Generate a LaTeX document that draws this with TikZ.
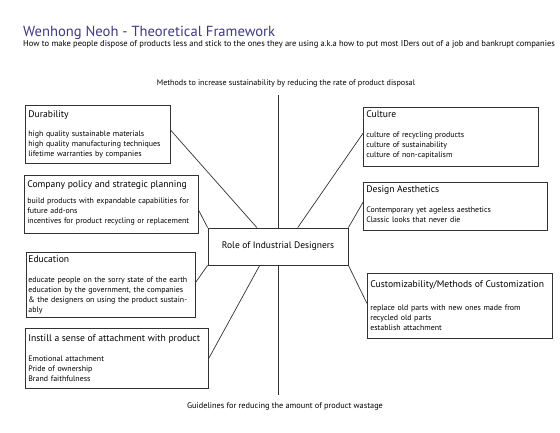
\documentclass[tikz,border=0pt]{standalone}
\usepackage{fontspec}
\setmainfont{PT Sans}
\usetikzlibrary{positioning,calc}
\definecolor{titleblue}{RGB}{61,58,126}
\definecolor{linegray}{RGB}{50,50,50}

\tikzset{
  framebox/.style={draw=linegray, line width=0.75pt, anchor=north west, align=left, inner xsep=3pt, inner ysep=0pt, font=\fontsize{7.9}{10}\selectfont},
  link/.style={draw=linegray, line width=0.7pt}
}
\newcommand{\boxhead}[2]{{\fontsize{9.6}{10}\selectfont #1}\\[#2]}

\begin{document}
\begin{tikzpicture}[x=1pt,y=-1pt]
  \useasboundingbox (0,0) rectangle (560,433);
  % heading
  \node[anchor=base west, inner sep=0, text=titleblue, font=\fontsize{14.6}{16}\selectfont] (title) at (23,37) {Wenhong Neoh - Theoretical Framework};
  \node[anchor=base west, inner sep=0, font=\fontsize{8.5}{9}\selectfont] (sub) at (23,47) {How to make people dispose of products less and stick to the ones they are using a.k.a how to put most IDers out of a job and bankrupt companies};
  \node[inner sep=0, font=\fontsize{8.1}{9}\selectfont] (methods) at (286,83) {Methods to increase sustainability by reducing the rate of product disposal};
  \node[inner sep=0, font=\fontsize{8.3}{9}\selectfont] (guide) at (285,406) {Guidelines for reducing the amount of product wastage};
  % centre
  \node[draw=linegray, line width=0.75pt, minimum width=140pt, minimum height=37pt, font=\fontsize{9.5}{10}\selectfont] (role) at (278,246.5) {Role of Industrial Designers};
  % left side
  \node[framebox, text width=139pt, text height=12pt, text depth=46pt] (dur) at (25,105) {\boxhead{Durability}{9pt}high quality sustainable materials\\high quality manufacturing techniques\\lifetime warranties by companies};
  \node[framebox, text width=168pt, text height=11.7pt, text depth=46.6pt] (policy) at (24,175) {\boxhead{Company policy and strategic planning}{6.6pt}build products with expandable capabilities for\\future add-ons\\incentives for product recycling or replacement};
  \node[framebox, text width=165pt, inner xsep=2pt, text height=10pt, text depth=55.6pt] (edu) at (26,251.7) {\boxhead{Education}{10pt}educate people on the sorry state of the earth\\education by the government, the companies\\\& the designers on using the product sustain-\\ably};
  \node[framebox, text width=177pt, text height=12.7pt, text depth=46.7pt] (instill) at (25,328.3) {\boxhead{Instill a sense of attachment with product}{9.7pt}Emotional attachment\\Pride of ownership\\Brand faithfulness};
  % right side
  \node[framebox, text width=169pt, text height=10pt, text depth=48.4pt] (culture) at (363,107.3) {\boxhead{Culture}{9.5pt}culture of recycling products\\culture of sustainability\\culture of non-capitalism};
  \node[framebox, text width=178pt, text height=10.6pt, text depth=37.7pt] (aes) at (363,181.7) {\boxhead{Design Aesthetics}{10pt}Contemporary yet ageless aesthetics\\Classic looks that never die};
  \node[framebox, text width=179pt, text height=13.7pt, text depth=51pt] (custom) at (367,273.3) {\boxhead{Customizability/Methods of Customization}{13pt}replace old parts with new ones made from\\recycled old parts\\establish attachment};
  % connectors
  \draw[link] (methods.south -| role.north) ++(0,8) -- (role.north);
  \draw[link] (role.south) -- ($(guide.north -| role.south)+(0,-7)$);
  \draw[link] ($(dur.north east)!0.43!(dur.south east)$) -- ($(role.north west)!0.35!(role.north east)$);
  \draw[link] ($(policy.north east)!0.6!(policy.south east)$) -- (role.north west);
  \draw[link] ($(edu.north east)!0.46!(edu.south east)$) -- (role.south west);
  \draw[link] ($(instill.north east)!0.5!(instill.south east)$) -- ($(role.south west)!0.37!(role.south east)$);
  \draw[link] ($(culture.north west)!0.44!(culture.south west)$) -- ($(role.north west)!0.64!(role.north east)$);
  \draw[link] ($(aes.north west)!0.42!(aes.south west)$) -- (role.north east);
  \draw[link] (role.south east) -- ($(custom.north west)!0.46!(custom.south west)$);
\end{tikzpicture}
\end{document}
